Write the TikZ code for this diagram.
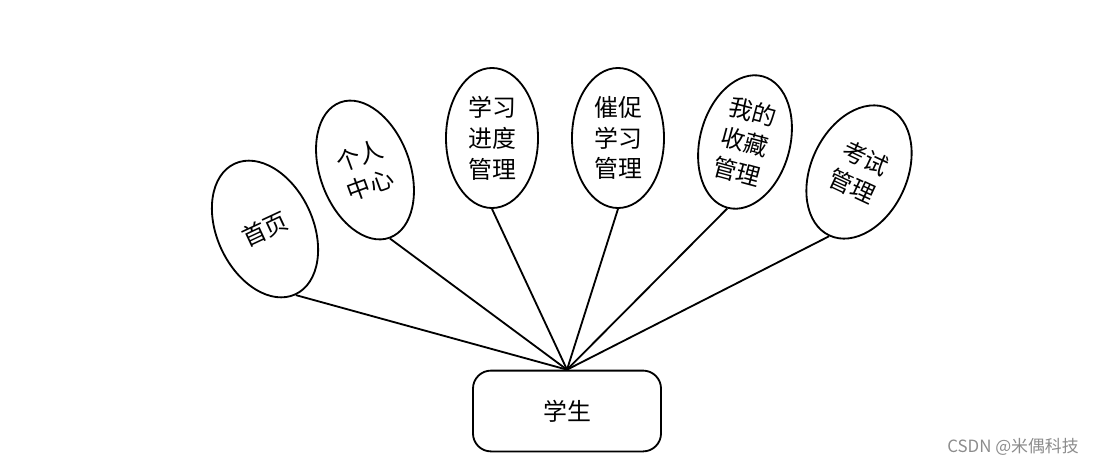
\documentclass[tikz,border=0pt]{standalone}
\usepackage{fontspec}
\newfontfamily\cjk{Noto Sans CJK SC}
\usetikzlibrary{shapes.geometric}

\begin{document}
\begin{tikzpicture}[
  x=0.025cm, y=-0.025cm,
  func/.style={ellipse, draw, line width=1.3pt, inner sep=0pt, align=center,
               minimum width=2.35cm, minimum height=3.5cm,
               font=\cjk\fontsize{17}{22}\selectfont},
  role/.style={rectangle, rounded corners=0.45cm, draw, line width=1.3pt,
               minimum width=4.7cm, minimum height=2.02cm,
               font=\cjk\fontsize{17}{20}\selectfont},
  link/.style={line width=1.3pt}
]
  \useasboundingbox (0,0) rectangle (1097,467);

  \node[role] (stu) at (567,411) {学生};

  \node[func, rotate=25, minimum width=2.4cm, minimum height=3.6cm] (home) at (265,229) {首页};
  \node[func, rotate=20, minimum width=2.25cm, minimum height=3.6cm] (center) at (365,170) {个人\\中心};
  \node[func, minimum width=2.3cm] (prog) at (492,138) {学习\\进度\\管理};
  \node[func, minimum width=2.3cm] (urge) at (618,138) {催促\\学习\\管理};
  \node[func, rotate=-15, minimum width=2.25cm, minimum height=3.4cm] (fav) at (745,142) {我的\\收藏\\管理};
  \node[func, rotate=-25, minimum width=2.4cm, minimum height=3.5cm] (exam) at (859,172) {考试\\管理};

  \draw[link] (stu.north) -- (home.south);
  \draw[link] (stu.north) -- (center.south);
  \draw[link] (stu.north) -- (prog.south);
  \draw[link] (stu.north) -- (urge.south);
  \draw[link] (stu.north) -- (fav.south);
  \draw[link] (stu.north) -- (exam.south);

  \node[text=black!45, font=\cjk\fontsize{12}{14}\selectfont] (mark) at (1013,447) {CSDN @米偶科技};
\end{tikzpicture}
\end{document}
